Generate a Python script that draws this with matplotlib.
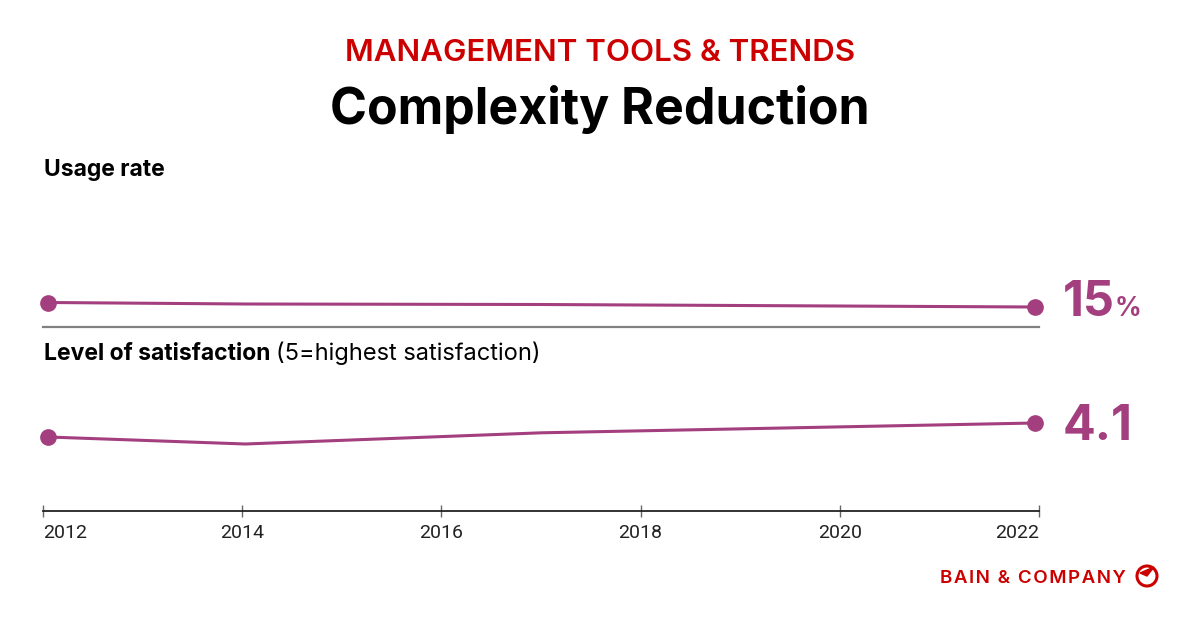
import matplotlib
matplotlib.use("Agg")
import matplotlib.pyplot as plt
from matplotlib.patches import Circle, Polygon

# data
years = [2012, 2014, 2017, 2022]
usage_rate = [15.9, 15.6, 15.5, 15.0]          # %
satisfaction = [4.0, 3.95, 4.03, 4.1]          # 5 = highest
tick_years = [2012, 2014, 2016, 2018, 2020, 2022]

title_top = "MANAGEMENT TOOLS & TRENDS"
title_main = "Complexity Reduction"

PURPLE = "#a33f7e"
RED = "#cc0000"
W, H = 1200, 627

plt.rcParams['font.family'] = ['Inter', 'DejaVu Sans']

fig = plt.figure(figsize=(12, 6.27), dpi=100)
fig.patch.set_facecolor("white")


def box(x0, y0, x1, y1):
    # pixel box (top-left origin) -> figure fraction rect
    return [x0 / W, 1 - y1 / H, (x1 - x0) / W, (y1 - y0) / H]


def style(ax):
    for s in ax.spines.values():
        s.set_visible(False)
    ax.set_xticks([])
    ax.set_yticks([])
    ax.patch.set_alpha(0)


# usage rate panel
ax1 = fig.add_axes(box(48, 250, 1035, 326))
ax1.plot(years, usage_rate, color=PURPLE, lw=2.2, solid_capstyle="round", clip_on=False)
ax1.plot([years[0], years[-1]], [usage_rate[0], usage_rate[-1]], "o", color=PURPLE,
         ms=11, clip_on=False)
ax1.set_xlim(2012, 2022)
ax1.set_ylim(11.2, 26.4)
style(ax1)
ax1.annotate(f"{usage_rate[-1]:.0f}", (years[-1], usage_rate[-1]), xytext=(20, -6.5),
             textcoords="offset points", fontsize=35, fontweight="bold", color=PURPLE,
             va="baseline", ha="left")
ax1.annotate("%", (years[-1], usage_rate[-1]), xytext=(57, -6.5),
             textcoords="offset points", fontsize=19, fontweight="bold", color=PURPLE,
             va="baseline", ha="left")

# satisfaction panel
ax2 = fig.add_axes(box(48, 370, 1035, 511))
ax2.plot(years, satisfaction, color=PURPLE, lw=2.2, solid_capstyle="round", clip_on=False)
ax2.plot([years[0], years[-1]], [satisfaction[0], satisfaction[-1]], "o", color=PURPLE,
         ms=11, clip_on=False)
ax2.set_xlim(2012, 2022)
ax2.set_ylim(3.4714, 4.4786)
style(ax2)
ax2.annotate(f"{satisfaction[-1]:.1f}", (years[-1], satisfaction[-1]), xytext=(20, -12.4),
             textcoords="offset points", fontsize=35, fontweight="bold", color=PURPLE,
             va="baseline", ha="left")

# x axis
axx = fig.add_axes(box(43, 500, 1039, 511))
axx.set_xlim(2012, 2022)
axx.set_yticks([])
for s in ["top", "left", "right"]:
    axx.spines[s].set_visible(False)
axx.spines["bottom"].set_color("#222222")
axx.spines["bottom"].set_linewidth(1.3)
axx.patch.set_alpha(0)
axx.set_xticks(tick_years)
axx.set_xticklabels([str(y) for y in tick_years], fontfamily="Roboto", fontsize=14,
                    color="#222222")
axx.tick_params(axis="x", direction="inout", length=8, width=1, color="#666666", pad=5)
labels = axx.get_xticklabels()
labels[0].set_ha("left")
labels[-1].set_ha("right")

# separator between panels
fig.add_artist(plt.Line2D([43 / W, 1039 / W], [1 - 327 / H] * 2, color="#808080", lw=1.6))

# titles
fig.text(0.5, 1 - 61 / H, title_top, ha="center", va="baseline", color=RED,
         fontsize=22.5, fontweight="semibold")
fig.text(0.5, 1 - 124 / H, title_main, ha="center", va="baseline", color="black",
         fontsize=36, fontweight="bold")

fig.text(44 / W, 1 - 176 / H, "Usage rate", ha="left", va="baseline", fontsize=16.5,
         fontweight="bold", color="black")
t_bold = fig.text(44 / W, 1 - 360 / H, "Level of satisfaction", ha="left", va="baseline",
                  fontsize=16.5, fontweight="bold", color="black")
fig.canvas.draw()
bb = t_bold.get_window_extent()
fig.text((bb.x1 + 6) / W, 1 - 360 / H, "(5=highest satisfaction)", ha="left",
         va="baseline", fontsize=17, color="black")

# logo
logo = "\u200a".join("BAIN & COMPANY")
fig.text(1126 / W, 1 - 583 / H, logo, ha="right", va="baseline",
         fontsize=13.5, fontweight="semibold", color=RED)
fig.add_artist(Circle((1147, H - 576), 10, transform=None, fill=False, ec=RED, lw=2.2))
fig.add_artist(Polygon([(1147, H - 576), (1154, H - 567), (1140, H - 573)],
                       closed=True, transform=None, color=RED))

fig.savefig("out.png", dpi=100, facecolor="white")
